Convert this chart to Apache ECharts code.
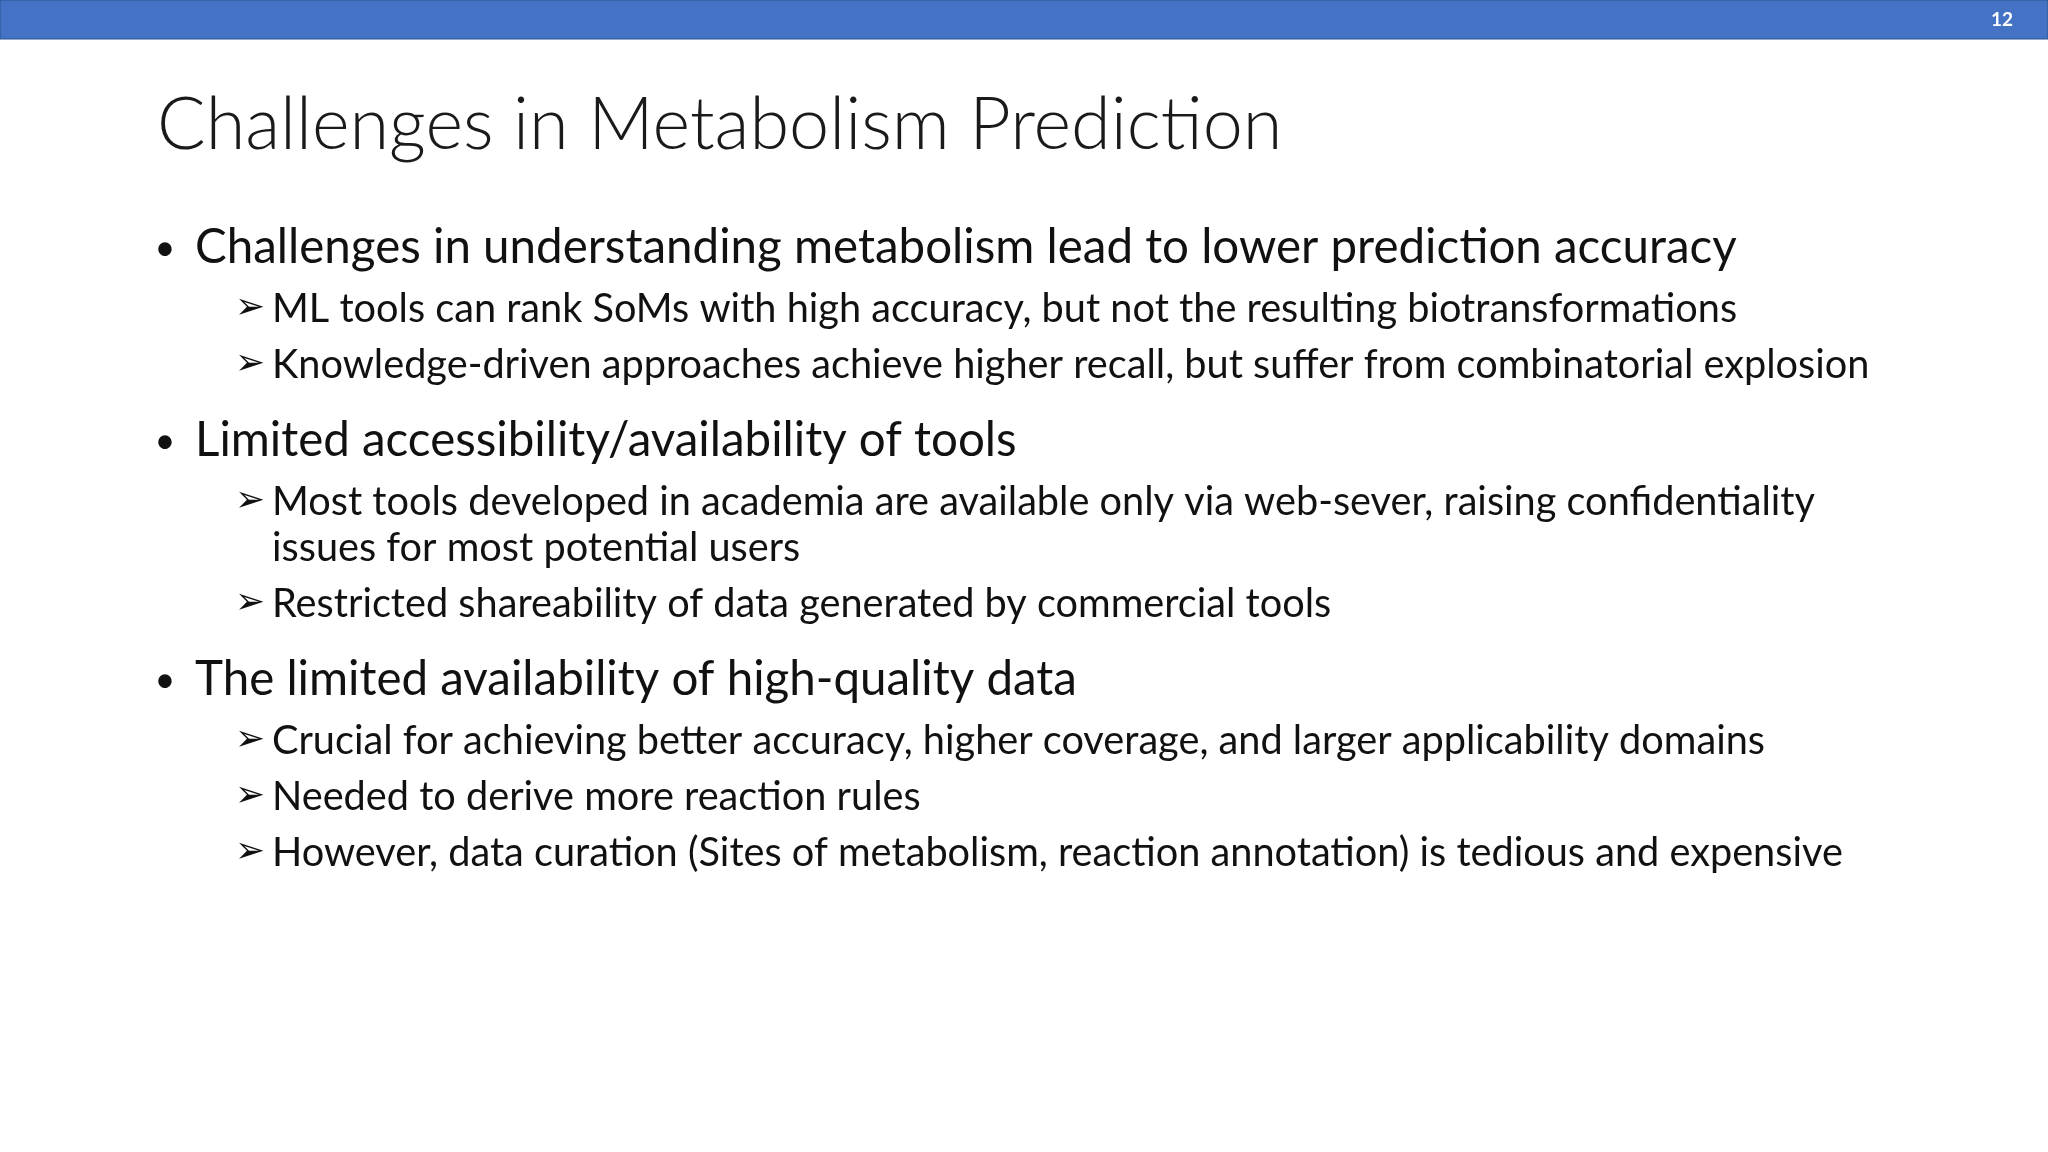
<!DOCTYPE html>
<html>
<head>
<meta charset="utf-8">
<script src="https://cdn.jsdelivr.net/npm/echarts@6/dist/echarts.min.js"></script>
<style>
  html, body { margin: 0; padding: 0; background: #fff; }
  #chart { width: 2048px; height: 1152px; }
</style>
</head>
<body>
<div id="chart"></div>
<script>
// slide content
const slideTitle = 'Challenges in Metabolism Prediction';
const pageNumber = '12';
const mainPoints = [
  'Challenges in understanding metabolism lead to lower prediction accuracy',
  'Limited accessibility/availability of tools',
  'The limited availability of high-quality data'
];
const subPoints = [
  ['ML tools can rank SoMs with high accuracy, but not the resulting biotransformations',
   'Knowledge-driven approaches achieve higher recall, but suffer from combinatorial explosion'],
  ['Most tools developed in academia are available only via web-sever, raising confidentiality\nissues for most potential users',
   'Restricted shareability of data generated by commercial tools'],
  ['Crucial for achieving better accuracy, higher coverage, and larger applicability domains',
   'Needed to derive more reaction rules',
   'However, data curation (Sites of metabolism, reaction annotation) is tedious and expensive']
];

const chart = echarts.init(document.getElementById('chart'));
const font = 'Lato, "Open Sans", sans-serif';

const graphic = [
  { type: 'rect', shape: { x: 0, y: 0, width: 2048, height: 39 },
    style: { fill: '#4472C4', stroke: '#2F528F', lineWidth: 1 } },
  { type: 'text', x: 2002, y: 20,
    style: { text: pageNumber, fill: '#fff', font: 'bold 19px ' + font, align: 'center', verticalAlign: 'middle' } },
  { type: 'text', x: 157, y: 126,
    style: { text: slideTitle, fill: '#1a1a1a', font: '300 72px ' + font, verticalAlign: 'middle' } }
];

let y = 248;
mainPoints.forEach((p, i) => {
  graphic.push({ type: 'text', x: 165, y: y,
    style: { text: '•', fill: '#111', font: '36px ' + font, align: 'center', verticalAlign: 'middle' } });
  graphic.push({ type: 'text', x: 195, y: y,
    style: { text: p, fill: '#111', font: '47.5px ' + font, verticalAlign: 'middle' } });
  y += 61;
  subPoints[i].forEach(s => {
    const lines = s.split('\n').length;
    graphic.push({ type: 'text', x: 235, y: y,
      style: { text: '➢', fill: '#111', font: 'bold 36px "DejaVu Sans"', verticalAlign: 'middle' } });
    graphic.push({ type: 'text', x: 272, y: y - 23,
      style: { text: s, fill: '#111', font: '39.7px ' + font, lineHeight: 46, verticalAlign: 'top' } });
    y += 46 * (lines - 1) + 56;
  });
  y += 20;
});

chart.setOption({ animation: false, graphic: graphic });
</script>
</body>
</html>
